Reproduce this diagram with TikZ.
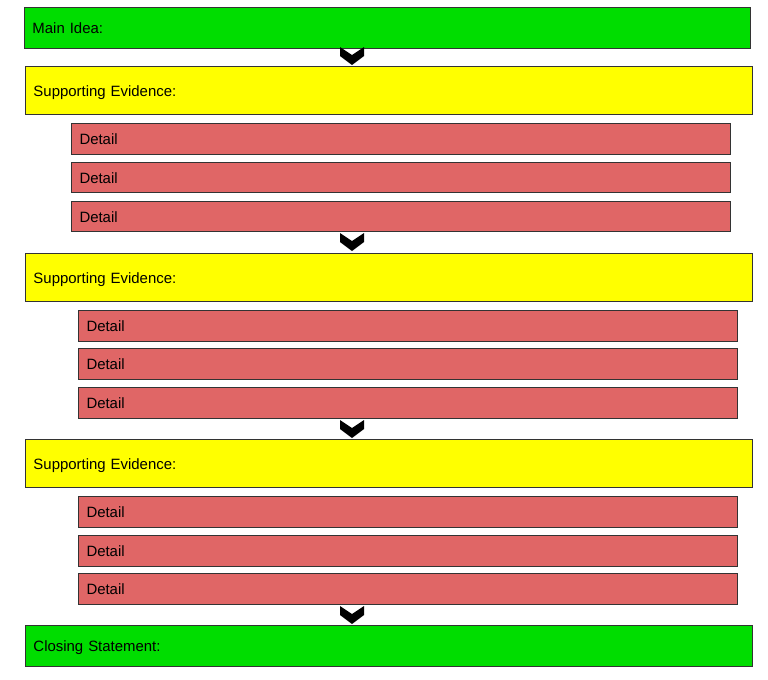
\documentclass[tikz,border=0pt]{standalone}
\usepackage{fontspec}
\setmainfont{Liberation Sans}
\definecolor{mgreen}{HTML}{00DD00}
\definecolor{myellow}{HTML}{FFFF00}
\definecolor{mred}{HTML}{E06666}
\definecolor{mborder}{HTML}{333333}
\newcommand\bx[7]{\node[#6, minimum width={(#4-#2)*0.75pt}, minimum height={(#5-#3)*0.75pt}, text width={(#4-#2)*0.75pt-12.75pt}] (#1) at ({(#2+#4)/2},{(#3+#5)/2}) {#7};}
\begin{document}
\begin{tikzpicture}[x=0.75pt,y=-0.75pt,
  basebox/.style={draw=mborder, line width=0.75pt, inner xsep=6pt, inner ysep=0pt, align=left, text height=9.5pt, text depth=0pt, font=\fontsize{11.2}{13}\selectfont, anchor=center},
  greenbox/.style={basebox, fill=mgreen},
  yellowbox/.style={basebox, fill=myellow},
  detailbox/.style={basebox, fill=mred},
  chev/.pic={\fill[black] (-12,0) -- (0,8) -- (12,0) -- (12,9) -- (0,18) -- (-12,9) -- cycle;}]
\useasboundingbox (0,0) rectangle (768,679);
\bx{main}{24}{7}{750}{48}{greenbox}{Main Idea:}
\bx{ye1}{25}{66}{752}{114}{yellowbox}{Supporting Evidence:}
\bx{d11}{71}{123}{730}{154}{detailbox}{Detail}
\bx{d12}{71}{162}{730}{192}{detailbox}{Detail}
\bx{d13}{71}{201}{730}{231}{detailbox}{Detail}
\bx{ye2}{25}{253}{752}{301}{yellowbox}{Supporting Evidence:}
\bx{d21}{78}{310}{737}{341}{detailbox}{Detail}
\bx{d22}{78}{348}{737}{379}{detailbox}{Detail}
\bx{d23}{78}{387}{737}{418}{detailbox}{Detail}
\bx{ye3}{25}{439}{752}{487}{yellowbox}{Supporting Evidence:}
\bx{d31}{78}{496}{737}{527}{detailbox}{Detail}
\bx{d32}{78}{535}{737}{566}{detailbox}{Detail}
\bx{d33}{78}{573}{737}{604}{detailbox}{Detail}
\bx{close}{25}{625}{752}{666}{greenbox}{Closing Statement:}
\coordinate (c1) at (352,47);
\coordinate (c2) at (352,233);
\coordinate (c3) at (352,420);
\coordinate (c4) at (352,606);
\pic at (c1) {chev};
\pic at (c2) {chev};
\pic at (c3) {chev};
\pic at (c4) {chev};
\end{tikzpicture}
\end{document}
